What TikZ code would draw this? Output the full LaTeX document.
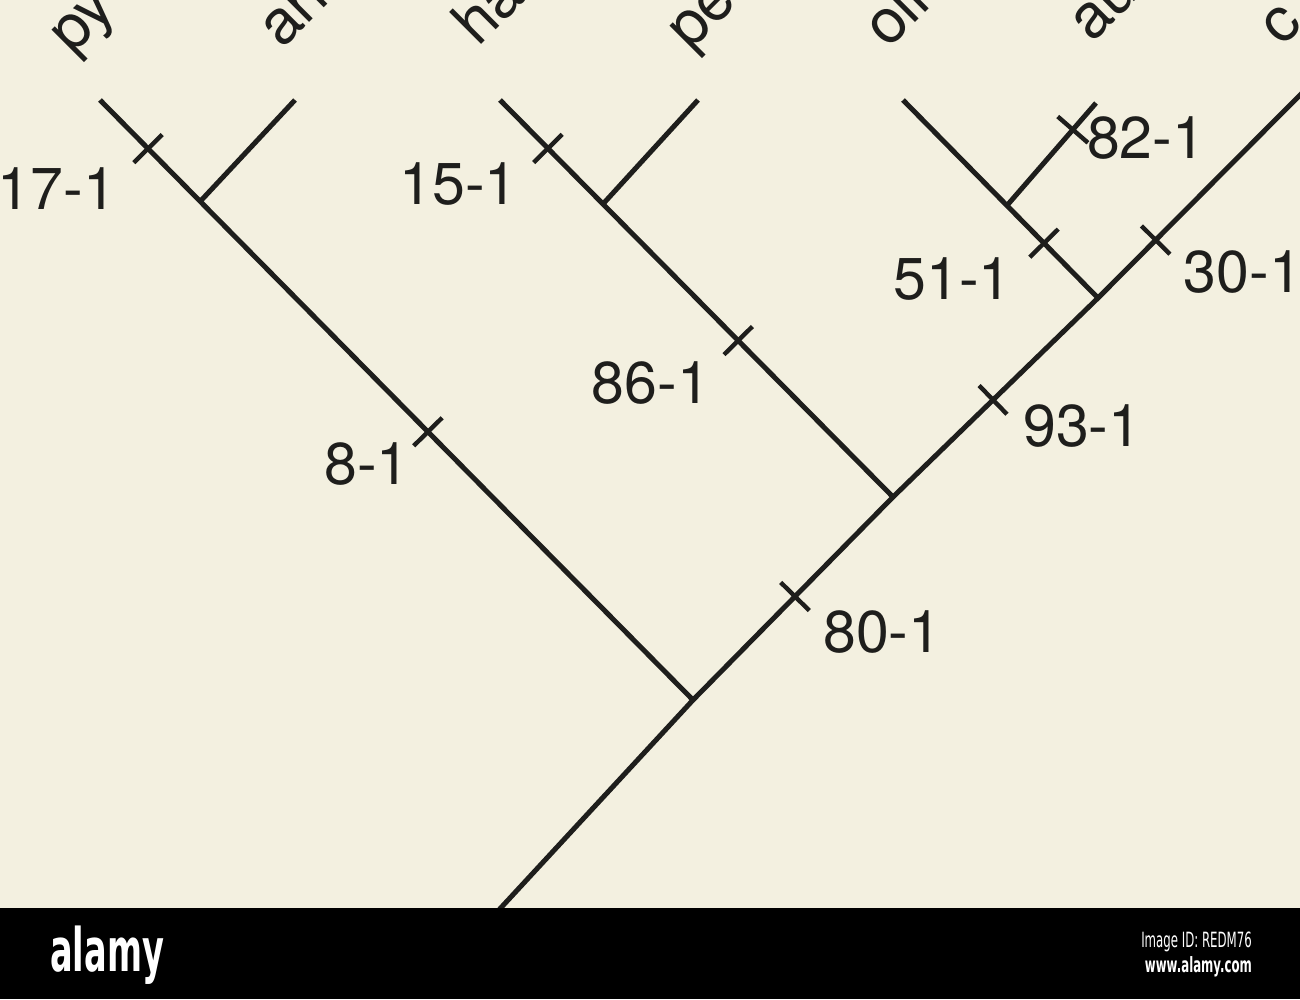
\documentclass[tikz,border=0pt]{standalone}
\usepackage{fontspec}
\setmainfont{TeX Gyre Heros}
\newfontfamily\barfont[FakeStretch=0.56]{DejaVu Sans}
\usetikzlibrary{calc}
\definecolor{paper}{RGB}{243,240,224}
\definecolor{ink}{RGB}{30,30,28}

% a cross tick on a branch: #1 point, #2 any other point on the branch
\newcommand\crosstick[2]{\draw[tickline] ($(#1)!20pt!90:(#2)$) -- ($(#1)!20pt!-90:(#2)$);}

\begin{document}
\begin{tikzpicture}
%defines
  [x=1pt,y=-1pt,
branch/.style={draw=ink,line width=5pt},
tickline/.style={draw=ink,line width=4.4pt},
num/.style={inner sep=0pt,text=ink,font=\fontsize{59}{60}\selectfont},
taxon/.style={inner sep=0pt,text=ink,rotate=45,anchor=base west,
font=\fontsize{62}{64}\selectfont},
barlogo/.style={inner sep=0pt,text=white,font=\barfont\bfseries\fontsize{60}{60}\selectfont},
bartext/.style={inner sep=0pt,text=white,font=\barfont\fontsize{21}{21}\selectfont}]
\useasboundingbox (0,0) rectangle (1300,999);
\fill[paper] (0,0) rectangle (1300,999);

% tips and forks
\coordinate (stem) at (497,912);
\coordinate (base) at (693,700);
\coordinate (tipPy) at (100,100);
\coordinate (tipAn) at (295,100);
\coordinate (forkPy) at ($(base)!0.831!(tipPy)$);
\coordinate (forkC) at (893,497);
\coordinate (tipHa) at (500,100);
\coordinate (tipPe) at (698,100);
\coordinate (forkHa) at ($(forkC)!0.738!(tipHa)$);
\coordinate (forkD) at (1098,298);
\coordinate (tipCx) at (1304,91);
\coordinate (tipOl) at (903,100);
\coordinate (tipAu) at (1096,103);
\coordinate (forkOl) at ($(forkD)!0.467!(tipOl)$);

% branches
\draw[branch] (stem) -- (base) -- (forkC) -- (forkD) -- (tipCx);
\draw[branch] (base) -- (tipPy);
\draw[branch] (forkPy) -- (tipAn);
\draw[branch] (forkC) -- (tipHa);
\draw[branch] (forkHa) -- (tipPe);
\draw[branch] (forkD) -- (tipOl);
\draw[branch] (forkOl) -- (tipAu);

% character changes
\coordinate (t8) at ($(base)!0.447!(tipPy)$);
\coordinate (t17) at ($(base)!0.919!(tipPy)$);
\coordinate (t80) at ($(base)!0.51!(forkC)$);
\coordinate (t93) at ($(forkC)!0.488!(forkD)$);
\coordinate (t30) at ($(forkD)!0.28!(tipCx)$);
\coordinate (t86) at ($(forkC)!0.394!(tipHa)$);
\coordinate (t15) at ($(forkC)!0.878!(tipHa)$);
\coordinate (t51) at ($(forkD)!0.277!(tipOl)$);
\coordinate (t82) at ($(forkOl)!0.74!(tipAu)$);
\crosstick{t8}{tipPy}
\crosstick{t17}{tipPy}
\crosstick{t80}{forkC}
\crosstick{t93}{forkD}
\crosstick{t30}{tipCx}
\crosstick{t86}{tipHa}
\crosstick{t15}{tipHa}
\crosstick{t51}{tipOl}
\crosstick{t82}{tipAu}

\node[num,anchor=east] (l17) at ($(t17)+(-32,40)$) {17-1};
\node[num,anchor=east] (l15) at ($(t15)+(-30,36)$) {15-1};
\node[num,anchor=east] (l8) at ($(t8)+(-18,32)$) {8-1};
\node[num,anchor=east] (l86) at ($(t86)+(-28,42)$) {86-1};
\node[num,anchor=east] (l51) at ($(t51)+(-32,36)$) {51-1};
\node[num,anchor=west] (l80) at ($(t80)+(28,36)$) {80-1};
\node[num,anchor=west] (l93) at ($(t93)+(30,26)$) {93-1};
\node[num,anchor=west] (l30) at ($(t30)+(28,32)$) {30-1};
\node[num,anchor=west] (l82) at ($(t82)+(14,8)$) {82-1};

% taxa (cut at the top edge)
\node[taxon] (nPy) at (72,56) {py};
\node[taxon] (nAn) at (282,50) {an};
\node[taxon] (nHa) at (478,48) {ha};
\node[taxon] (nPe) at (690,52) {pe};
\node[taxon] (nOl) at (888,50) {oli};
\node[taxon] (nAu) at (1092,44) {au};
\node[taxon] (nC) at (1282,48) {c};

% banner
\fill[black] (0,908) rectangle (1300,999);
\node[barlogo,anchor=west] (logo) at (50,955) {alamy};
\node[bartext,anchor=east] (imgid) at (1252,942) {Image ID: REDM76};
\node[bartext,anchor=east,font=\barfont\bfseries\fontsize{21}{21}\selectfont] (site) at (1252,967) {www.alamy.com};
\end{tikzpicture}
\end{document}
